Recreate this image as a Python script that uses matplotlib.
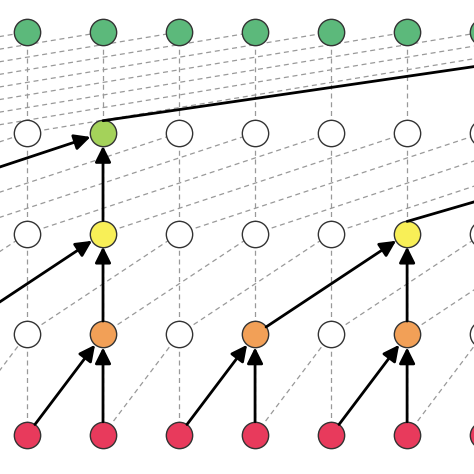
import matplotlib
matplotlib.use('Agg')
import matplotlib.pyplot as plt
from matplotlib.patches import FancyArrowPatch

# levels: 0 input, 1..3 hidden, 4 output ; dilation per level
dilations = [1, 2, 4, 8]
n_cols = 7

# colored nodes (level, col) -> colour
node_colors = {
    (1, 1): '#f2a057', (1, 3): '#f2a057', (1, 5): '#f2a057',
    (2, 1): '#f8ef57', (2, 5): '#f8ef57',
    (3, 1): '#a4d25a',
}
input_color = '#e83a5c'
output_color = '#5cb97b'

# black arrows: (level_from, col_from, level_to, col_to, arrowhead)
arrows = [
    (0, 0, 1, 1, True), (0, 1, 1, 1, True),
    (0, 2, 1, 3, True), (0, 3, 1, 3, True),
    (0, 4, 1, 5, True), (0, 5, 1, 5, True),
    (1, -1, 2, 1, True), (1, 1, 2, 1, True),
    (1, 3, 2, 5, True), (1, 5, 2, 5, True),
    (2, -3, 3, 1, True), (2, 1, 3, 1, True),
    (2, 5, 3, 9, False),
    (3, 1, 4, 9, False),
]

fig = plt.figure(figsize=(4.74, 4.74), dpi=100)
ax = fig.add_axes([0, 0, 1, 1])
ax.set_xlim(-0.355, 5.88)
ax.set_ylim(-0.387, 4.318)
ax.axis('off')

# dashed grey connections
for lvl, d in enumerate(dilations):
    for c in range(-10, n_cols + 2):
        ax.plot([c, c], [lvl, lvl + 1], ls=(0, (4, 3)), color='#999999', lw=0.9, zorder=1)
        ax.plot([c - d, c], [lvl, lvl + 1], ls=(0, (4, 3)), color='#999999', lw=0.9, zorder=1)

# nodes
for lvl in range(5):
    for c in range(n_cols):
        if lvl == 0:
            col = input_color
        elif lvl == 4:
            col = output_color
        else:
            col = node_colors.get((lvl, c), 'white')
        ax.scatter(c, lvl, s=360, facecolor=col, edgecolor='#333333', linewidth=1.0, zorder=3)

# black arrows
for l0, c0, l1, c1, head in arrows:
    if head:
        p = FancyArrowPatch((c0, l0), (c1, l1), arrowstyle='-|>', mutation_scale=24,
                            shrinkA=9.5, shrinkB=9.5, color='black', lw=2.0, zorder=4)
    else:
        # plain line leaving from the top of the node
        p = FancyArrowPatch((c0, l0 + 0.12), (c1, l1), arrowstyle='-',
                            shrinkA=0, shrinkB=0, color='black', lw=2.0, zorder=4)
    ax.add_patch(p)

fig.savefig('out.png', dpi=100)
